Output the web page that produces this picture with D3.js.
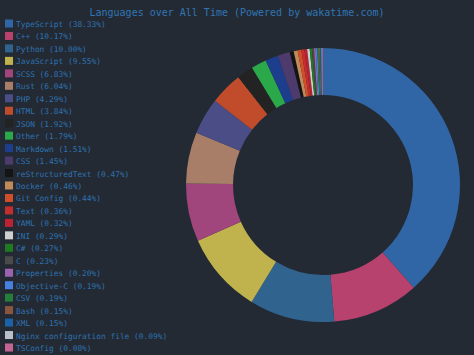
<!DOCTYPE html>
<html><head><meta charset="utf-8">
<script src="https://cdn.jsdelivr.net/npm/d3@7"></script>
<style>
html,body{margin:0;padding:0;background:#242a33;}
svg{display:block;}
</style></head>
<body>
<svg id="chart" width="474" height="355"></svg>
<script>
const title = "Languages over All Time (Powered by wakatime.com)";
const languages = ["TypeScript","C++","Python","JavaScript","SCSS","Rust","PHP","HTML","JSON","Other","Markdown","CSS","reStructuredText","Docker","Git Config","Text","YAML","INI","C#","C","Properties","Objective-C","CSV","Bash","XML","Nginx configuration file","TSConfig"];
const percents = [38.33,10.17,10.00,9.55,6.83,6.04,4.29,3.84,1.92,1.79,1.51,1.45,0.47,0.46,0.44,0.36,0.32,0.29,0.27,0.23,0.20,0.19,0.19,0.15,0.15,0.09,0.08];
const colors = ["#3066a6","#b8426e","#30648f","#c0b34e","#a0467c","#a87e68","#4b4e86","#c04c2c","#232323","#2aa84a","#1d3e8c","#4c3b6c","#141414","#c08a5a","#d04f2a","#c42e2e","#bd2232","#cfcfcf","#1f7a22","#4a4a4a","#9a62b0","#4680e0","#247d3c","#8a5540","#1b62a8","#b9c0c8","#c46494"];

const svg = d3.select("#chart");

svg.append("text")
  .attr("x", 237).attr("y", 15.5)
  .attr("text-anchor", "middle")
  .attr("font-family", "DejaVu Sans Mono")
  .attr("font-size", 10)
  .attr("fill", "#2f76b6")
  .text(title);

const data = languages.map((d,i)=>({name:d, value:percents[i], color:colors[i]}));

const pie = d3.pie().value(d=>d.value).sort(null);
const arc = d3.arc().innerRadius(90).outerRadius(137);
const g = svg.append("g").attr("transform","translate(323,185)");
g.selectAll("path").data(pie(data)).join("path")
  .attr("d", arc)
  .attr("fill", d=>d.data.color);

const legendY = d3.scalePoint().domain(languages).range([24, 348]);
const lg = svg.append("g");
const items = lg.selectAll("g").data(data).join("g")
  .attr("transform", d=>`translate(0,${legendY(d.name)})`);
items.append("rect").attr("x",5).attr("y",-4.5).attr("width",8).attr("height",8).attr("fill",d=>d.color);
items.append("text").attr("x",16).attr("y",3)
  .attr("font-family","DejaVu Sans Mono").attr("font-size",7.85)
  .attr("fill","#2d72b2")
  .text(d=>`${d.name} (${d.value.toFixed(2)}%)`);
</script>
</body></html>
